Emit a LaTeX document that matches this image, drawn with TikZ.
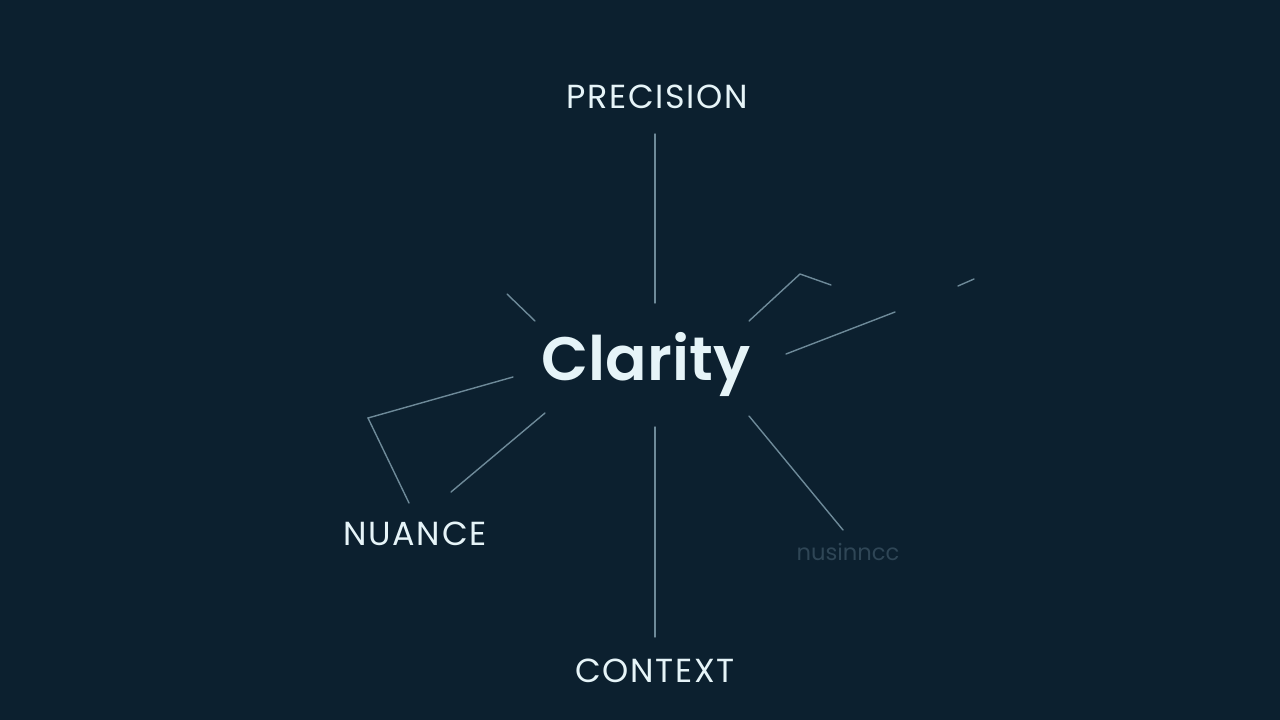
\documentclass[tikz,border=0pt]{standalone}
\usepackage{fontspec}
\setmainfont{Open Sans}
\newfontfamily\labelfont[LetterSpace=5.0]{Poppins}
\newfontfamily\ghostfont{Poppins}
\newfontfamily\titlefont{Poppins SemiBold}
\definecolor{bg}{HTML}{0C202F}
\definecolor{linec}{HTML}{6E8A99}
\definecolor{txt}{HTML}{E6F4F8}
\definecolor{faint}{HTML}{2F4656}
\tikzset{
  conn/.style={draw=linec,line width=1.05pt,line cap=round,line join=miter},
  label/.style={text=txt,inner sep=0pt,anchor=center,font=\labelfont\fontsize{25}{28}\selectfont},
}
\begin{document}
\begin{tikzpicture}[x=0.75pt,y=-0.75pt]
\useasboundingbox (0,0) rectangle (1280,720);
\fill[bg] (0,0) rectangle (1280,720);
\node[text=txt,inner sep=0pt,font=\titlefont\fontsize{46}{52}\selectfont] (clarity) at (646,364) {Clarity};
\node[label] (precision) at (657,97) {PRECISION};
\node[label] (nuance) at (415,534) {NUANCE};
\node[label] (context) at (655,671) {CONTEXT};
\node[text=faint,inner sep=0pt,font=\ghostfont\fontsize{17}{18}\selectfont] (ghost) at (848,552) {nusinncc};
\coordinate (a1) at (655,134); \coordinate (a2) at (655,303);
\coordinate (b1) at (655,427); \coordinate (b2) at (655,637);
\coordinate (c1) at (507,294); \coordinate (c2) at (535,321);
\coordinate (d1) at (513,377); \coordinate (d2) at (368,418); \coordinate (d3) at (409,503);
\coordinate (e1) at (545,413); \coordinate (e2) at (451,492);
\coordinate (f1) at (749,321); \coordinate (f2) at (800,274); \coordinate (f3) at (831,285);
\coordinate (g1) at (958,286); \coordinate (g2) at (974,279);
\coordinate (h1) at (786,354); \coordinate (h2) at (895,312);
\coordinate (i1) at (749,416); \coordinate (i2) at (843,530);
\draw[conn] (a1) -- (a2);
\draw[conn] (b1) -- (b2);
\draw[conn] (c1) -- (c2);
\draw[conn] (d1) -- (d2) -- (d3);
\draw[conn] (e1) -- (e2);
\draw[conn] (f1) -- (f2) -- (f3);
\draw[conn] (g1) -- (g2);
\draw[conn] (h1) -- (h2);
\draw[conn] (i1) -- (i2);
\end{tikzpicture}
\end{document}
